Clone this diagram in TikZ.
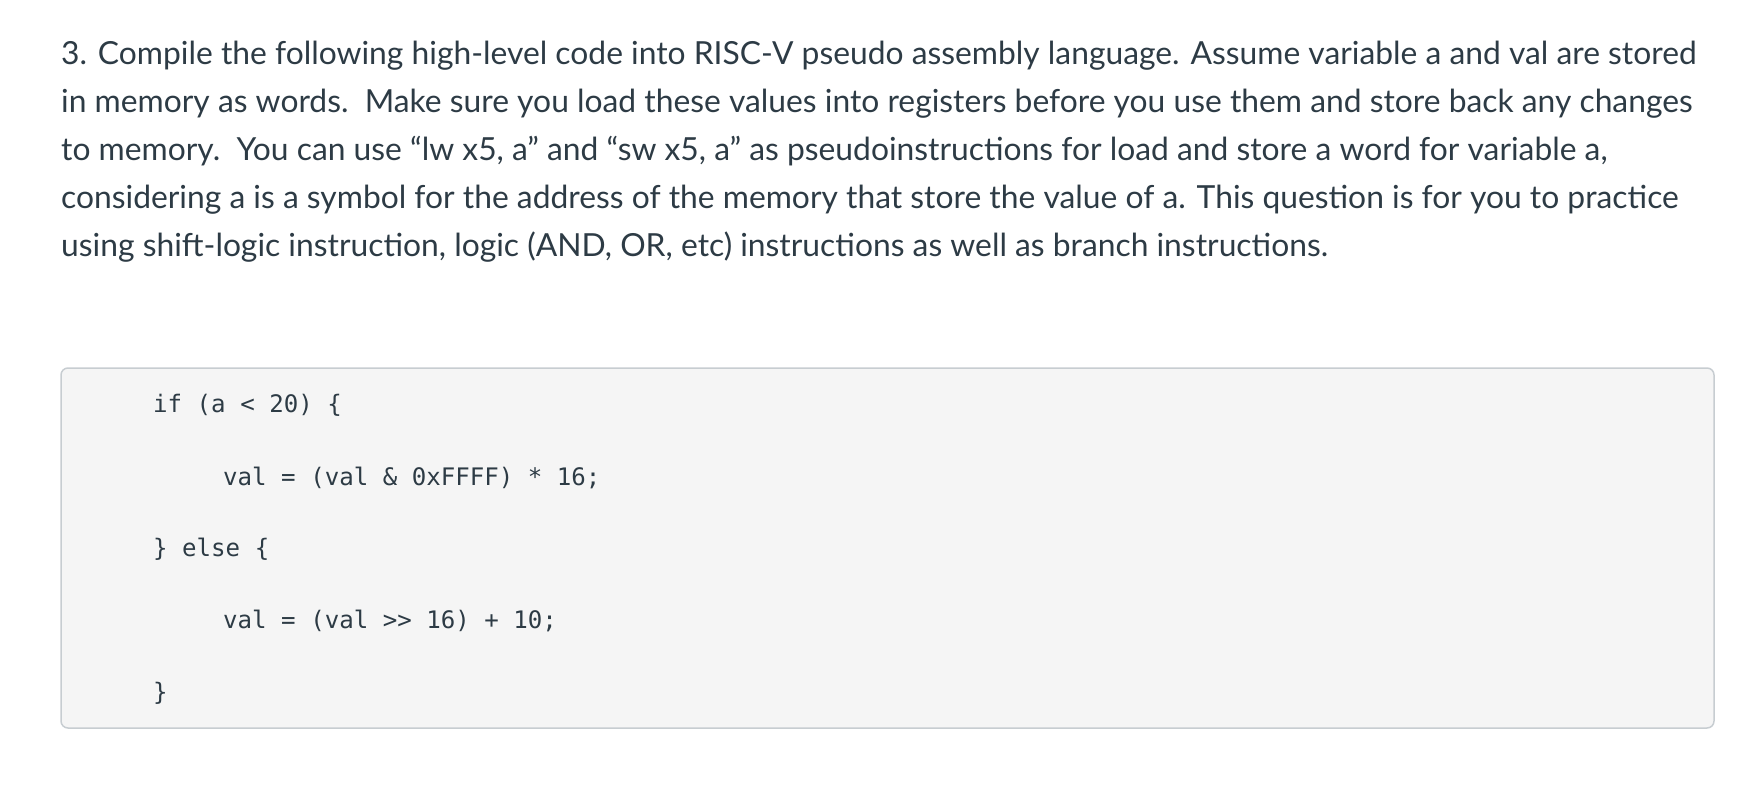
\documentclass[tikz,border=0pt]{standalone}
\usepackage{fontspec}
\setmainfont{Lato}
\newfontfamily\codefont{DejaVu Sans Mono}
\definecolor{txt}{HTML}{2D3B45}
\definecolor{codebg}{HTML}{F5F5F5}
\definecolor{codeborder}{HTML}{C7CDD1}
\begin{document}
\begin{tikzpicture}[x=1pt,y=-1pt,
  para/.style={anchor=base west,inner sep=0,text=txt,font=\fontsize{31.8}{38}\selectfont},
  code/.style={anchor=base west,inner sep=0,text=txt,font=\codefont\fontsize{24.1}{28}\selectfont}]
\useasboundingbox (0,0) rectangle (1748,794);
\node[para] (l1) at (61,65) {3. Compile the following high-level code into RISC-V pseudo assembly language. Assume variable a and val are stored};
\node[para] (l2) at (61,113) {in memory as words.\ \ Make sure you load these values into registers before you use them and store back any changes};
\node[para] (l3) at (61,161) {to memory.\ \ You can use “lw x5, a” and “sw x5, a” as pseudoinstructions for load and store a word for variable a,};
\node[para] (l4) at (61,209) {considering a is a symbol for the address of the memory that store the value of a. This question is for you to practice};
\node[para] (l5) at (61,257) {using shift-logic instruction, logic (AND, OR, etc) instructions as well as branch instructions.};
\draw[codeborder,fill=codebg,line width=1.5,rounded corners=7] (61,368) rectangle (1714,728);
\node[code] (c1) at (153,412) {if (a < 20) \{};
\node[code] (c2) at (223,485) {val = (val \& 0xFFFF) * 16;};
\node[code] (c3) at (153,556) {\} else \{};
\node[code] (c4) at (223,628) {val = (val >> 16) + 10;};
\node[code] (c5) at (153,700) {\}};
\end{tikzpicture}
\end{document}
